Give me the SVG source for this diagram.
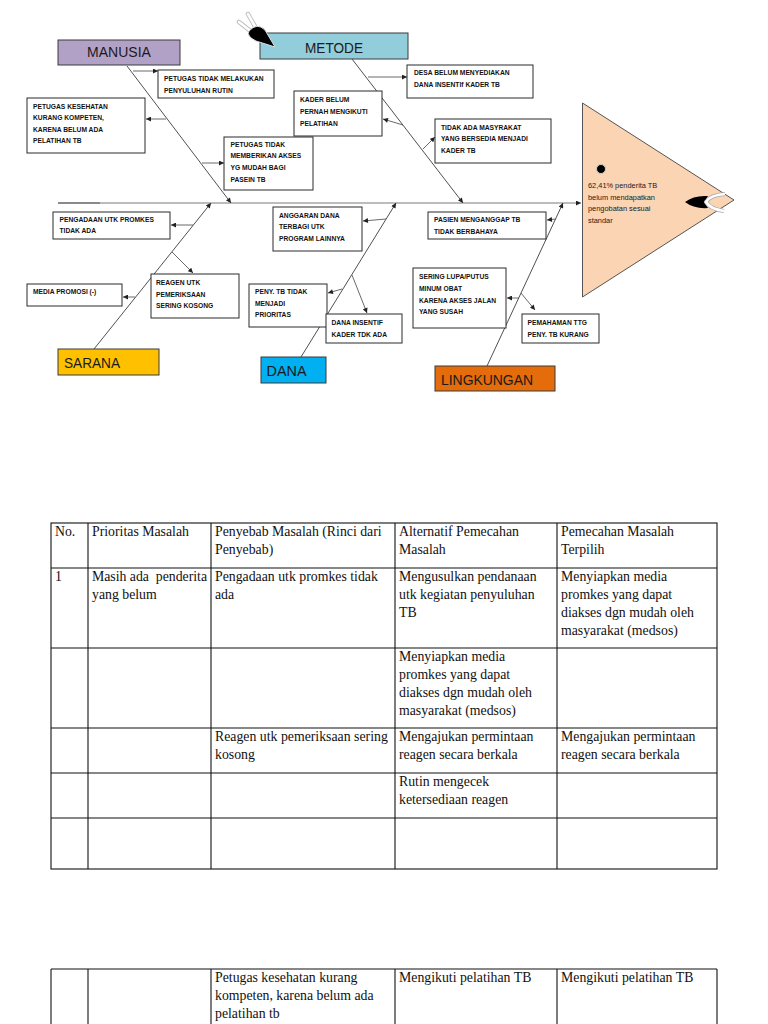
<svg xmlns="http://www.w3.org/2000/svg" width="768" height="1024" viewBox="0 0 768 1024">
<style>
.bx{fill:#fff;stroke:#2b2b2b;stroke-width:1}
.bt{font-family:"Liberation Sans",Arial,sans-serif;font-weight:bold;font-size:6.7px;fill:#111}
.hd{font-family:"Liberation Sans",Arial,sans-serif;fill:#1a1a1a}
.hb{stroke:#3a3a3a;stroke-width:1}
.bone{stroke:#3c3c3c;stroke-width:0.9;fill:none}
.sub{stroke:#444;stroke-width:0.8;fill:none}
.tl{stroke:#111;stroke-width:1.1;fill:none}
.tt{font-family:"Liberation Serif","Times New Roman",serif;font-size:13.8px;fill:#111}
</style>
<defs>
<marker id="ah" viewBox="0 0 10 10" refX="10" refY="5" markerWidth="6" markerHeight="5" markerUnits="userSpaceOnUse" orient="auto"><path d="M0,0 L10,5 L0,10 z" fill="#222"/></marker>
</defs>
<rect width="768" height="1024" fill="#fff"/>

<!-- head -->
<g id="head">
<polygon points="582.5,103 734,200 582.5,297" fill="#fbd4b4" stroke="#555" stroke-width="1"/>
<circle cx="601" cy="169" r="4.5" fill="#000" stroke="#ccc" stroke-width="1"/>
<text class="hd" font-size="7.4" x="588" y="188" fill="#222">62,41%  penderita TB</text>
<text class="hd" font-size="7.4" x="588" y="199.5">belum mendapatkan</text>
<text class="hd" font-size="7.4" x="588" y="211">pengobatan sesuai</text>
<text class="hd" font-size="7.4" x="588" y="222.5">standar</text>
<path d="M685,202 Q694,195 708,196 Q703,202 708,208 Q694,209 685,202 Z" fill="#000"/>
<path d="M725,194 Q710,195 706,202 Q710,209 724,211" fill="none" stroke="#aaa" stroke-width="4.2" stroke-linejoin="round"/>
<path d="M725,194 Q710,195 706,202 Q710,209 724,211" fill="none" stroke="#fff" stroke-width="2.6" stroke-linejoin="round"/>
</g>

<g id="connectors">
<line x1="58" y1="203" x2="581" y2="203" stroke="#a6a6a6" stroke-width="1.5" marker-end="url(#ah)"/>
<line x1="58" y1="203" x2="100" y2="203" stroke="#8a8a8a" stroke-width="1.8"/>
<line class="bone" x1="127" y1="66" x2="231" y2="203" marker-end="url(#ah)"/>
<line class="bone" x1="352" y1="59" x2="463" y2="203" marker-end="url(#ah)"/>
<line class="bone" x1="94" y1="349" x2="211" y2="203" marker-end="url(#ah)"/>
<line class="bone" x1="301" y1="357" x2="396" y2="203" marker-end="url(#ah)"/>
<line class="bone" x1="487" y1="366" x2="563" y2="203" marker-end="url(#ah)"/>
<line class="sub" x1="133" y1="71" x2="158" y2="71" marker-end="url(#ah)"/>
<line class="sub" x1="166" y1="119" x2="146" y2="119" marker-end="url(#ah)"/>
<line class="sub" x1="202" y1="163" x2="224" y2="163" marker-end="url(#ah)"/>
<line class="sub" x1="368" y1="77" x2="407" y2="77" marker-end="url(#ah)"/>
<line class="sub" x1="403" y1="125" x2="383" y2="119" marker-end="url(#ah)"/>
<line class="sub" x1="423" y1="149" x2="435" y2="137" marker-end="url(#ah)"/>
<line class="sub" x1="193" y1="225" x2="171" y2="225" marker-end="url(#ah)"/>
<line class="sub" x1="172" y1="252" x2="193" y2="273" marker-end="url(#ah)"/>
<line class="sub" x1="135" y1="297" x2="123" y2="297" marker-end="url(#ah)"/>
<line class="sub" x1="386" y1="219" x2="363" y2="221" marker-end="url(#ah)"/>
<line class="sub" x1="342" y1="289" x2="328" y2="293" marker-end="url(#ah)"/>
<line class="sub" x1="352" y1="275" x2="367" y2="313" marker-end="url(#ah)"/>
<line class="sub" x1="556" y1="219" x2="547" y2="220" marker-end="url(#ah)"/>
<line class="sub" x1="519" y1="298" x2="507" y2="298" marker-end="url(#ah)"/>
<line class="sub" x1="521" y1="293" x2="535" y2="310" marker-end="url(#ah)"/>
</g>

<!-- category heads -->
<g id="manusia"><rect class="hb" x="58" y="40" width="122" height="25" fill="#b2a1c7"/><text class="hd" x="119" y="56.5" font-size="14" text-anchor="middle">MANUSIA</text></g>
<g id="metode"><rect class="hb" x="260" y="33" width="148" height="26" fill="#92cddc"/><text class="hd" x="305" y="53" font-size="15.5" textLength="58" lengthAdjust="spacingAndGlyphs">METODE</text></g>
<g id="sarana"><rect class="hb" x="58" y="349" width="101" height="26" fill="#ffc000"/><text class="hd" x="64" y="368" font-size="15.5" textLength="56" lengthAdjust="spacingAndGlyphs">SARANA</text></g>
<g id="dana"><rect class="hb" x="261" y="357" width="65" height="26" fill="#00b0f0"/><text class="hd" x="266.5" y="375.5" font-size="15.5" textLength="40" lengthAdjust="spacingAndGlyphs">DANA</text></g>
<g id="lingkungan"><rect class="hb" x="435" y="366" width="120" height="25" fill="#e46c0a"/><text class="hd" x="441" y="385" font-size="15.5" textLength="92" lengthAdjust="spacingAndGlyphs">LINGKUNGAN</text></g>

<!-- pointer near METODE -->
<g id="pointer">
<path d="M248,14 L257,30 M239,22 L253,33" stroke="#bbb" stroke-width="4.5" stroke-linecap="round"/>
<path d="M248,14 L257,30 M239,22 L253,33" stroke="#fff" stroke-width="2.6" stroke-linecap="round"/>
<path d="M249,31 Q257,22 265,30 L275,47 L256,41 Q246,36 249,31 Z" fill="#000" stroke="#ddd" stroke-width="1"/>
</g>

<!-- cause boxes -->
<g id="c1"><rect class="bx" x="158" y="70" width="116" height="28"/><text class="bt" x="164" y="81">PETUGAS TIDAK MELAKUKAN</text><text class="bt" x="164" y="93">PENYULUHAN RUTIN</text></g>
<g id="c2"><rect class="bx" x="27" y="98" width="118" height="55"/><text class="bt" x="33" y="108.5">PETUGAS KESEHATAN</text><text class="bt" x="33" y="120">KURANG KOMPETEN,</text><text class="bt" x="33" y="131.5">KARENA BELUM ADA</text><text class="bt" x="33" y="143">PELATIHAN TB</text></g>
<g id="c3"><rect class="bx" x="224" y="137" width="89" height="53"/><text class="bt" x="230.5" y="146.5">PETUGAS TIDAK</text><text class="bt" x="230.5" y="158">MEMBERIKAN AKSES</text><text class="bt" x="230.5" y="170">YG MUDAH BAGI</text><text class="bt" x="230.5" y="181.5">PASEIN TB</text></g>
<g id="c4"><rect class="bx" x="407" y="65" width="126" height="33"/><text class="bt" x="414" y="74.5">DESA BELUM MENYEDIAKAN</text><text class="bt" x="414" y="86.5">DANA INSENTIf KADER TB</text></g>
<g id="c5"><rect class="bx" x="294" y="91" width="88" height="45"/><text class="bt" x="300" y="102">KADER BELUM</text><text class="bt" x="300" y="114">PERNAH MENGIKUTI</text><text class="bt" x="300" y="125.5">PELATIHAN</text></g>
<g id="c6"><rect class="bx" x="435" y="119" width="116" height="44"/><text class="bt" x="441" y="129.5">TIDAK ADA MASYRAKAT</text><text class="bt" x="441" y="141">YANG BERSEDIA MENJADI</text><text class="bt" x="441" y="152.5">KADER TB</text></g>
<g id="c7"><rect class="bx" x="53" y="212" width="117" height="27"/><text class="bt" x="59.5" y="221.5">PENGADAAN UTK PROMKES</text><text class="bt" x="59.5" y="233">TIDAK ADA</text></g>
<g id="c8"><rect class="bx" x="151" y="274" width="88" height="44"/><text class="bt" x="156" y="285">REAGEN UTK</text><text class="bt" x="156" y="296.5">PEMERIKSAAN</text><text class="bt" x="156" y="308">SERING KOSONG</text></g>
<g id="c9"><rect class="bx" x="27" y="284" width="95" height="22"/><text class="bt" x="33" y="294">MEDIA PROMOSI (-)</text></g>
<g id="c10"><rect class="bx" x="273" y="207" width="89" height="44"/><text class="bt" x="279" y="217.5">ANGGARAN DANA</text><text class="bt" x="279" y="229">TERBAGI UTK</text><text class="bt" x="279" y="241">PROGRAM LAINNYA</text></g>
<g id="c11"><rect class="bx" x="249" y="284" width="78" height="43"/><text class="bt" x="255" y="294">PENY. TB TIDAK</text><text class="bt" x="255" y="305.5">MENJADI</text><text class="bt" x="255" y="317">PRIORITAS</text></g>
<g id="c12"><rect class="bx" x="326" y="314" width="76" height="29"/><text class="bt" x="331.5" y="324.5">DANA INSENTIF</text><text class="bt" x="331.5" y="336.5">KADER TDK ADA</text></g>
<g id="c13"><rect class="bx" x="428" y="212" width="118" height="27"/><text class="bt" x="434" y="222">PASIEN MENGANGGAP TB</text><text class="bt" x="434" y="234">TIDAK BERBAHAYA</text></g>
<g id="c14"><rect class="bx" x="413" y="268" width="93" height="60"/><text class="bt" x="419" y="279">SERING LUPA/PUTUS</text><text class="bt" x="419" y="291">MINUM OBAT</text><text class="bt" x="419" y="302.5">KARENA AKSES JALAN</text><text class="bt" x="419" y="314">YANG SUSAH</text></g>
<g id="c15"><rect class="bx" x="522" y="314" width="77" height="29"/><text class="bt" x="527.5" y="324.5">PEMAHAMAN TTG</text><text class="bt" x="527.5" y="336.5">PENY. TB KURANG</text></g>

<!-- table 1 -->
<g id="table1">
<rect class="tl" x="51" y="523" width="666" height="346"/>
<line class="tl" x1="88" y1="523" x2="88" y2="869"/>
<line class="tl" x1="211" y1="523" x2="211" y2="869"/>
<line class="tl" x1="395" y1="523" x2="395" y2="869"/>
<line class="tl" x1="557" y1="523" x2="557" y2="869"/>
<line class="tl" x1="51" y1="568" x2="717" y2="568"/>
<line class="tl" x1="51" y1="648" x2="717" y2="648"/>
<line class="tl" x1="51" y1="728" x2="717" y2="728"/>
<line class="tl" x1="51" y1="773" x2="717" y2="773"/>
<line class="tl" x1="51" y1="818" x2="717" y2="818"/>
<text class="tt" x="55" y="536">No.</text>
<text class="tt" x="92" y="536">Prioritas Masalah</text>
<text class="tt" x="215" y="536">Penyebab Masalah (Rinci dari</text>
<text class="tt" x="215" y="554">Penyebab)</text>
<text class="tt" x="399" y="536">Alternatif Pemecahan</text>
<text class="tt" x="399" y="554">Masalah</text>
<text class="tt" x="561" y="536">Pemecahan Masalah</text>
<text class="tt" x="561" y="554">Terpilih</text>
<text class="tt" x="55" y="581">1</text>
<text class="tt" x="92" y="581" textLength="115" lengthAdjust="spacing" xml:space="preserve">Masih ada  penderita</text>
<text class="tt" x="92" y="599">yang belum</text>
<text class="tt" x="215" y="581">Pengadaan utk promkes tidak</text>
<text class="tt" x="215" y="599">ada</text>
<text class="tt" x="399" y="581">Mengusulkan pendanaan</text>
<text class="tt" x="399" y="599">utk kegiatan penyuluhan</text>
<text class="tt" x="399" y="617">TB</text>
<text class="tt" x="561" y="581">Menyiapkan media</text>
<text class="tt" x="561" y="599">promkes yang dapat</text>
<text class="tt" x="561" y="617">diakses dgn mudah oleh</text>
<text class="tt" x="561" y="635">masyarakat (medsos)</text>
<text class="tt" x="399" y="661">Menyiapkan media</text>
<text class="tt" x="399" y="679">promkes yang dapat</text>
<text class="tt" x="399" y="697">diakses dgn mudah oleh</text>
<text class="tt" x="399" y="715">masyarakat (medsos)</text>
<text class="tt" x="215" y="741">Reagen utk pemeriksaan sering</text>
<text class="tt" x="215" y="759">kosong</text>
<text class="tt" x="399" y="741">Mengajukan permintaan</text>
<text class="tt" x="399" y="759">reagen secara berkala</text>
<text class="tt" x="561" y="741">Mengajukan permintaan</text>
<text class="tt" x="561" y="759">reagen secara berkala</text>
<text class="tt" x="399" y="786">Rutin mengecek</text>
<text class="tt" x="399" y="804">ketersediaan reagen</text>
</g>

<!-- table 2 -->
<g id="table2">
<line class="tl" x1="51" y1="969" x2="717" y2="969"/>
<line class="tl" x1="51" y1="969" x2="51" y2="1024"/>
<line class="tl" x1="88" y1="969" x2="88" y2="1024"/>
<line class="tl" x1="211" y1="969" x2="211" y2="1024"/>
<line class="tl" x1="395" y1="969" x2="395" y2="1024"/>
<line class="tl" x1="557" y1="969" x2="557" y2="1024"/>
<line class="tl" x1="717" y1="969" x2="717" y2="1024"/>
<text class="tt" x="215" y="982">Petugas kesehatan kurang</text>
<text class="tt" x="215" y="1000">kompeten, karena belum ada</text>
<text class="tt" x="215" y="1018">pelatihan tb</text>
<text class="tt" x="399" y="982">Mengikuti pelatihan TB</text>
<text class="tt" x="561" y="982">Mengikuti pelatihan TB</text>
</g>
</svg>
